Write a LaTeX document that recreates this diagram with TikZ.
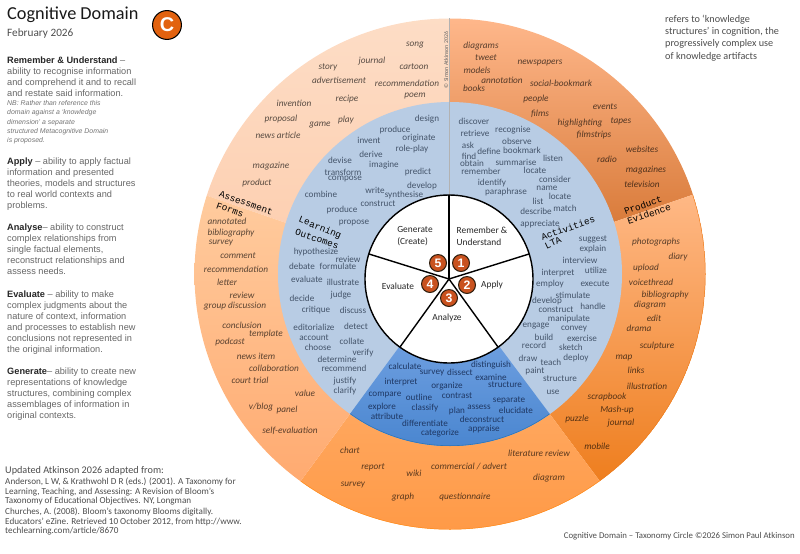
\documentclass[tikz,border=0pt]{standalone}
\usepackage{fontspec}
\usepackage{tikz}
\setmainfont{Carlito}
\newfontfamily\arialfont{Liberation Sans}
\newfontfamily\labelfont{Liberation Mono}

\definecolor{wordblue}{HTML}{44546A}
\definecolor{wedgeword}{HTML}{1F3864}
\definecolor{ballfill}{HTML}{C9521F}
\definecolor{badgefill}{HTML}{E2620F}
\definecolor{ringblue}{HTML}{B8CCE4}
\definecolor{CreateFrom}{HTML}{FDDDC6}
\definecolor{CreateTo}{HTML}{FDD0B2}
\definecolor{TopFrom}{HTML}{FFB88C}
\definecolor{TopTo}{HTML}{D97B3A}
\definecolor{RightFrom}{HTML}{FFB987}
\definecolor{RightTo}{HTML}{EE7E1E}
\definecolor{LowFrom}{HTML}{FFA75E}
\definecolor{LowTo}{HTML}{FF9A47}
\definecolor{LowEdge}{HTML}{FF8C1A}
\definecolor{LeftFrom}{HTML}{FFCC9F}
\definecolor{LeftTo}{HTML}{FFAA70}
\definecolor{WedgeFrom}{HTML}{6E9FE0}
\definecolor{WedgeTo}{HTML}{4A86D0}
\definecolor{WedgeEdge}{HTML}{2E75B6}

\tikzset{
    artefact/.style={font=\fontsize{7.9}{9}\selectfont\itshape, text=black, text opacity=0.65, inner sep=0},
    verbword/.style={font=\fontsize{7.8}{9}\selectfont, text=wordblue, inner sep=0},
    wedgeverb/.style={font=\fontsize{7.8}{9}\selectfont, text=wedgeword, inner sep=0},
    ringlabel/.style={font=\fontsize{8}{9}\selectfont\labelfont, text=black, inner sep=0},
    levellabel/.style={font=\fontsize{8}{10.5}\selectfont, text=black!85, inner sep=0, align=left},
    stepball/.style={circle, draw=black!75!brown, line width=0.9pt, fill=ballfill, text=white, inner sep=0, minimum size=17*0.85pt, font=\fontsize{10.5}{10.5}\selectfont\bfseries\arialfont},
    blurb/.style={anchor=north west, inner sep=0, align=left, font=\fontsize{7.85}{9.35}\selectfont\arialfont, text=black!60},
    smallnote/.style={anchor=north west, inner sep=0, align=left, font=\fontsize{5.9}{7.8}\selectfont\itshape\arialfont, text=black!55},
    sidetext/.style={anchor=north west, inner sep=0, align=left, text=black!70}
}

\begin{document}
\begin{tikzpicture}[x=0.03cm, y=-0.03cm]
        \useasboundingbox (0, 0) rectangle (800, 554);

        \coordinate (hub) at (449, 279);
        \coordinate (mid) at (450, 274);
        \coordinate (rimTop) at (449, -200);
        \coordinate (rimRight) at (935, 111);
        \coordinate (rimLowR) at (749, 681);
        \coordinate (rimLowL) at (151, 685);
        \coordinate (rimLeft) at (-39, 111);

        \begin{scope}
            \clip (mid) circle (255.5);
            \clip (hub) -- (rimLeft) -- (-39, -200) -- (rimTop) -- cycle;
            \shade[top color=CreateFrom, bottom color=CreateTo] (190, 15) rectangle (450, 225);
        \end{scope}
        \begin{scope}
            \clip (mid) circle (255.5);
            \clip (hub) -- (rimTop) -- (935, -200) -- (rimRight) -- cycle;
            \shade[top color=TopFrom, bottom color=TopTo] (449, 15) rectangle (710, 225);
        \end{scope}
        \begin{scope}
            \clip (mid) circle (255.5);
            \clip (hub) -- (rimRight) -- (935, 681) -- (rimLowR) -- cycle;
            \shade[top color=RightFrom, bottom color=RightTo] (540, 190) rectangle (710, 482);
            \draw[RightTo, line width=0.8pt] (mid) circle (255.5);
        \end{scope}
        \begin{scope}
            \clip (mid) circle (255.5);
            \clip (hub) -- (rimLowR) -- (rimLowL) -- cycle;
            \shade[top color=LowFrom, bottom color=LowTo] (300, 410) rectangle (600, 530);
            \draw[LowEdge, line width=0.8pt] (mid) circle (255.5);
        \end{scope}
        \begin{scope}
            \clip (mid) circle (255.5);
            \clip (hub) -- (rimLowL) -- (-39, 685) -- (rimLeft) -- cycle;
            \shade[top color=LeftFrom, bottom color=LeftTo] (190, 190) rectangle (350, 484);
        \end{scope}

        \fill[ringblue] (mid) circle (172);
        \begin{scope}
            \clip (mid) circle (172);
            \clip (hub) -- (rimLowR) -- (rimLowL) -- cycle;
            \shade[top color=WedgeFrom, bottom color=WedgeTo] (340, 340) rectangle (560, 447);
            \draw[WedgeEdge, line width=1pt] (mid) circle (172);
        \end{scope}
        \draw[black!30, line width=0.5pt] (449.5, 18) -- (449.5, 195);

        \coordinate (spokeTop) at (449, 195);
        \coordinate (spokeRight) at (529, 254);
        \coordinate (spokeLowR) at (498, 347);
        \coordinate (spokeLowL) at (400, 347);
        \coordinate (spokeLeft) at (369, 254);

        \draw[fill=white, line width=1.2pt] (hub) circle (84);
        \draw[line width=1.2pt] (hub) -- (spokeTop);
        \draw[line width=1.2pt] (hub) -- (spokeRight);
        \draw[line width=1.2pt] (hub) -- (spokeLowR);
        \draw[line width=1.2pt] (hub) -- (spokeLowL);
        \draw[line width=1.2pt] (hub) -- (spokeLeft);

        \node[stepball] (ballOne) at (461, 263) {1};
        \node[stepball] (ballTwo) at (467, 285) {2};
        \node[stepball] (ballThree) at (449, 298) {3};
        \node[stepball] (ballFour) at (430, 284) {4};
        \node[stepball] (ballFive) at (438, 263) {5};

        \node[levellabel] (lvlGenerate) at (415, 236) {Generate\\(Create)};
        \node[levellabel] (lvlRemember) at (482, 236) {Remember \&\\Understand};
        \node[levellabel] (lvlApply) at (492, 285) {Apply};
        \node[levellabel] (lvlAnalyze) at (447, 318) {Analyze};
        \node[levellabel] (lvlEvaluate) at (398, 286) {Evaluate};

        \node[ringlabel, rotate=-20] (ringAssess) at (246, 203) {Assessment};
        \node[ringlabel, rotate=-20] (ringForms) at (230, 210) {Forms};
        \node[ringlabel, rotate=-22] (ringLearn) at (320, 228) {Learning};
        \node[ringlabel, rotate=-18] (ringOut) at (317, 239) {Outcomes};
        \node[ringlabel, rotate=19] (ringActive) at (568, 228) {Activities};
        \node[ringlabel, rotate=25] (ringLta) at (553, 243) {LTA};
        \node[ringlabel, rotate=20] (ringProduct) at (643, 205) {Product};
        \node[ringlabel, rotate=18] (ringEvid) at (649, 214) {Evidence};

        \node[artefact] (tl-song) at (415, 45) {song};
        \node[artefact] (tl-journal) at (372, 61) {journal};
        \node[artefact] (tl-story) at (328, 67) {story};
        \node[artefact] (tl-cartoon) at (414, 67) {cartoon};
        \node[artefact] (tl-advert) at (339, 80) {advertisement};
        \node[artefact] (tl-recomm) at (407, 83) {recommendation};
        \node[artefact] (tl-recipe) at (347, 99) {recipe};
        \node[artefact] (tl-poem) at (415, 96) {poem};
        \node[artefact] (tl-invention) at (294, 103) {invention};
        \node[artefact] (tl-proposal) at (281, 119) {proposal};
        \node[artefact] (tl-play) at (346, 120) {play};
        \node[artefact] (tl-game) at (320, 125) {game};
        \node[artefact] (tl-news) at (278, 135) {news article};
        \node[artefact] (tl-magazine) at (271, 166) {magazine};
        \node[artefact] (tl-product) at (257, 183) {product};
        \node[inner sep=0, rotate=90, font=\fontsize{5}{6}\selectfont, text=black!60] (tl-copy) at (446, 60) {© Simon Atkinson 2026};

        \node[artefact] (te-diagrams) at (481, 46) {diagrams};
        \node[artefact] (te-tweet) at (486, 58) {tweet};
        \node[artefact] (te-news) at (540, 63) {newspapers};
        \node[artefact] (te-models) at (477, 70) {models};
        \node[artefact] (te-annot) at (502, 80) {annotation};
        \node[artefact] (te-social) at (561, 83) {social-bookmark};
        \node[artefact] (te-books) at (474, 88) {books};
        \node[artefact] (te-people) at (536, 99) {people};
        \node[artefact] (te-events) at (605, 107) {events};
        \node[artefact] (te-films) at (540, 114) {films};
        \node[artefact] (te-tapes) at (621, 121) {tapes};
        \node[artefact] (te-high) at (580, 123) {highlighting};
        \node[artefact] (te-strips) at (594, 135) {filmstrips};
        \node[artefact] (te-web) at (642, 149) {websites};
        \node[artefact] (te-radio) at (607, 159) {radio};
        \node[artefact] (te-mags) at (646, 170) {magazines};
        \node[artefact] (te-tv) at (642, 184) {television};

        \node[artefact] (ri-photos) at (656, 242) {photographs};
        \node[artefact] (ri-diary) at (678, 257) {diary};
        \node[artefact] (ri-upload) at (646, 268) {upload};
        \node[artefact] (ri-voice) at (651, 282) {voicethread};
        \node[artefact] (ri-biblio) at (665, 295) {bibliography};
        \node[artefact] (ri-diagram) at (650, 305) {diagram};
        \node[artefact] (ri-edit) at (654, 318) {edit};
        \node[artefact] (ri-drama) at (639, 328) {drama};
        \node[artefact] (ri-sculpt) at (657, 346) {sculpture};
        \node[artefact] (ri-map) at (624, 358) {map};
        \node[artefact] (ri-links) at (636, 370) {links};
        \node[artefact] (ri-illus) at (647, 386) {illustration};
        \node[artefact] (ri-scrap) at (607, 397) {scrapbook};
        \node[artefact] (ri-mash) at (617, 410) {Mash-up};
        \node[artefact] (ri-puzzle) at (577, 419) {puzzle};
        \node[artefact] (ri-journal) at (621, 423) {journal};
        \node[artefact] (ri-mobile) at (597, 446) {mobile};

        \node[artefact] (lo-chart) at (350, 450) {chart};
        \node[artefact] (lo-review) at (539, 453) {literature review};
        \node[artefact] (lo-report) at (373, 467) {report};
        \node[artefact] (lo-advert) at (469, 466) {commercial / advert};
        \node[artefact] (lo-wiki) at (414, 473) {wiki};
        \node[artefact] (lo-diagram) at (549, 478) {diagram};
        \node[artefact] (lo-survey) at (353, 485) {survey};
        \node[artefact] (lo-graph) at (403, 497) {graph};
        \node[artefact] (lo-quest) at (465, 497) {questionnaire};

        \node[artefact] (le-annot) at (227, 221) {annotated};
        \node[artefact] (le-biblio) at (231, 233) {bibliography};
        \node[artefact] (le-survey) at (221, 243) {survey};
        \node[artefact] (le-comment) at (238, 256) {comment};
        \node[artefact] (le-recomm) at (236, 269) {recommendation};
        \node[artefact] (le-letter) at (227, 282) {letter};
        \node[artefact] (le-review) at (242, 295) {review};
        \node[artefact] (le-group) at (235, 306) {group discussion};
        \node[artefact] (le-concl) at (242, 325) {conclusion};
        \node[artefact] (le-templ) at (266, 334) {template};
        \node[artefact] (le-podcast) at (230, 342) {podcast};
        \node[artefact] (le-item) at (256, 356) {news item};
        \node[artefact] (le-collab) at (274, 368) {collaboration};
        \node[artefact] (le-court) at (250, 380) {court trial};
        \node[artefact] (le-value) at (305, 393) {value};
        \node[artefact] (le-vblog) at (261, 407) {v/blog};
        \node[artefact] (le-panel) at (287, 410) {panel};
        \node[artefact] (le-self) at (290, 431) {self-evaluation};

        \node[verbword] (oc-design) at (427, 119) {design};
        \node[verbword] (oc-produce) at (395, 130) {produce};
        \node[verbword] (oc-originate) at (419, 138) {originate};
        \node[verbword] (oc-invent) at (369, 140) {invent};
        \node[verbword] (oc-role) at (412, 149) {role-play};
        \node[verbword] (oc-derive) at (371, 154) {derive};
        \node[verbword] (oc-devise) at (340, 160) {devise};
        \node[verbword] (oc-imagine) at (384, 165) {imagine};
        \node[verbword] (oc-predict) at (418, 172) {predict};
        \node[verbword] (oc-transform) at (343, 172) {transform};
        \node[verbword] (oc-compose) at (345, 179) {compose};
        \node[verbword] (oc-develop) at (422, 186) {develop};
        \node[verbword] (oc-write) at (375, 190) {write};
        \node[verbword] (oc-synth) at (404, 195) {synthesise};
        \node[verbword] (oc-combine) at (321, 194) {combine};
        \node[verbword] (oc-construct) at (378, 204) {construct};
        \node[verbword] (oc-produceB) at (342, 210) {produce};
        \node[verbword] (oc-propose) at (354, 223) {propose};
        \node[verbword] (oc-hypo) at (316, 252) {hypothesize};
        \node[verbword] (oc-review) at (348, 259) {review};
        \node[verbword] (oc-debate) at (302, 266) {debate};
        \node[verbword] (oc-formulate) at (338, 266) {formulate};
        \node[verbword] (oc-evaluate) at (307, 279) {evaluate};
        \node[verbword] (oc-illus) at (343, 282) {illustrate};
        \node[verbword] (oc-judge) at (341, 295) {judge};
        \node[verbword] (oc-decide) at (302, 298) {decide};
        \node[verbword] (oc-critique) at (316, 310) {critique};
        \node[verbword] (oc-discuss) at (353, 310) {discuss};
        \node[verbword] (oc-editor) at (314, 327) {editorialize};
        \node[verbword] (oc-detect) at (356, 326) {detect};
        \node[verbword] (oc-account) at (314, 338) {account};
        \node[verbword] (oc-collate) at (352, 341) {collate};
        \node[verbword] (oc-choose) at (318, 347) {choose};
        \node[verbword] (oc-verify) at (363, 353) {verify};
        \node[verbword] (oc-determine) at (337, 359) {determine};
        \node[verbword] (oc-recommend) at (344, 368) {recommend};
        \node[verbword] (oc-justify) at (345, 381) {justify};
        \node[verbword] (oc-clarify) at (345, 391) {clarify};

        \node[verbword] (la-discover) at (474, 121) {discover};
        \node[verbword] (la-retrieve) at (475, 133) {retrieve};
        \node[verbword] (la-recognise) at (513, 130) {recognise};
        \node[verbword] (la-observe) at (517, 141) {observe};
        \node[verbword] (la-ask) at (468, 145) {ask};
        \node[verbword] (la-define) at (489, 151) {define};
        \node[verbword] (la-bookmark) at (522, 150) {bookmark};
        \node[verbword] (la-find) at (469, 156) {find};
        \node[verbword] (la-listen) at (553, 158) {listen};
        \node[verbword] (la-obtain) at (472, 163) {obtain};
        \node[verbword] (la-summarise) at (516, 162) {summarise};
        \node[verbword] (la-remember) at (481, 171) {remember};
        \node[verbword] (la-locate) at (535, 170) {locate};
        \node[verbword] (la-consider) at (555, 179) {consider};
        \node[verbword] (la-identify) at (492, 183) {identify};
        \node[verbword] (la-name) at (547, 188) {name};
        \node[verbword] (la-para) at (506, 192) {paraphrase};
        \node[verbword] (la-locateB) at (560, 196) {locate};
        \node[verbword] (la-list) at (538, 201) {list};
        \node[verbword] (la-describe) at (536, 211) {describe};
        \node[verbword] (la-match) at (565, 208) {match};
        \node[verbword] (la-appreciate) at (540, 224) {appreciate};
        \node[verbword] (la-suggest) at (593, 239) {suggest};
        \node[verbword] (la-explain) at (593, 249) {explain};
        \node[verbword] (la-interview) at (580, 260) {interview};
        \node[verbword] (la-utilize) at (596, 270) {utilize};
        \node[verbword] (la-interpret) at (558, 273) {interpret};
        \node[verbword] (la-employ) at (550, 284) {employ};
        \node[verbword] (la-execute) at (595, 284) {execute};
        \node[verbword] (la-stimulate) at (573, 295) {stimulate};
        \node[verbword] (la-develop) at (547, 301) {develop};
        \node[verbword] (la-handle) at (593, 306) {handle};
        \node[verbword] (la-construct) at (556, 310) {construct};
        \node[verbword] (la-manip) at (569, 319) {manipulate};
        \node[verbword] (la-engage) at (536, 326) {engage};
        \node[verbword] (la-convey) at (574, 329) {convey};
        \node[verbword] (la-build) at (544, 337) {build};
        \node[verbword] (la-exercise) at (582, 338) {exercise};
        \node[verbword] (la-record) at (534, 345) {record};
        \node[verbword] (la-sketch) at (571, 347) {sketch};
        \node[verbword] (la-draw) at (528, 358) {draw};
        \node[verbword] (la-deploy) at (576, 358) {deploy};
        \node[verbword] (la-teach) at (551, 362) {teach};
        \node[verbword] (la-paint) at (535, 371) {paint};
        \node[verbword] (la-structure) at (560, 379) {structure};
        \node[verbword] (la-use) at (553, 392) {use};

        \node[wedgeverb] (az-calculate) at (405, 366) {calculate};
        \node[wedgeverb] (az-distinguish) at (491, 365) {distinguish};
        \node[wedgeverb] (az-survey) at (432, 373) {survey};
        \node[wedgeverb] (az-dissect) at (460, 372) {dissect};
        \node[wedgeverb] (az-examine) at (491, 377) {examine};
        \node[wedgeverb] (az-interpret) at (401, 382) {interpret};
        \node[wedgeverb] (az-structure) at (505, 385) {structure};
        \node[wedgeverb] (az-organize) at (447, 386) {organize};
        \node[wedgeverb] (az-compare) at (385, 395) {compare};
        \node[wedgeverb] (az-outline) at (419, 397) {outline};
        \node[wedgeverb] (az-contrast) at (457, 396) {contrast};
        \node[wedgeverb] (az-separate) at (509, 400) {separate};
        \node[wedgeverb] (az-explore) at (382, 407) {explore};
        \node[wedgeverb] (az-assess) at (479, 407) {assess};
        \node[wedgeverb] (az-classify) at (425, 408) {classify};
        \node[wedgeverb] (az-elucidate) at (516, 410) {elucidate};
        \node[wedgeverb] (az-plan) at (457, 411) {plan};
        \node[wedgeverb] (az-attribute) at (387, 416) {attribute};
        \node[wedgeverb] (az-deconstruct) at (482, 419) {deconstruct};
        \node[wedgeverb] (az-differ) at (425, 423) {differentiate};
        \node[wedgeverb] (az-appraise) at (484, 429) {appraise};
        \node[wedgeverb] (az-categorize) at (440, 433) {categorize};

        \node[sidetext, font=\fontsize{15.6}{17}\selectfont, text=black!90] (title) at (7, 7) {Cognitive Domain};
        \node[sidetext, font=\fontsize{9.6}{11}\selectfont] (subtitle) at (7, 28) {February 2026};
        \node[circle, draw=black, line width=0.9pt, fill=badgefill, text=white, inner sep=0, minimum size=29*0.85pt, font=\fontsize{17}{17}\selectfont\bfseries\arialfont] (badge) at (167, 25) {C};

        \node[blurb] (blurbRemember) at (7, 57) {\textcolor{black!85}{\textbf{Remember \& Understand}} –\\ability to recognise information\\and comprehend it and to recall\\and restate said information.};
        \node[smallnote] (blurbNote) at (7, 100.5) {NB: Rather than reference this\\domain against a ‘knowledge\\dimension’ a separate\\structured Metacognitive Domain\\is proposed.};
        \node[blurb] (blurbApply) at (7, 158) {\textcolor{black!85}{\textbf{Apply}} – ability to apply factual\\information and presented\\theories, models and structures\\to real world contexts and\\problems.};
        \node[blurb] (blurbAnalyse) at (7, 224) {\textcolor{black!85}{\textbf{Analyse}}– ability to construct\\complex relationships from\\single factual elements,\\reconstruct relationships and\\assess needs.};
        \node[blurb] (blurbEvaluate) at (7, 291) {\textcolor{black!85}{\textbf{Evaluate}} – ability to make\\complex judgments about the\\nature of context, information\\and processes to establish new\\conclusions not represented in\\the original information.};
        \node[blurb] (blurbGenerate) at (7, 368) {\textcolor{black!85}{\textbf{Generate}}– ability to create new\\representations of knowledge\\structures, combining complex\\assemblages of information in\\original contexts.};

        \node[sidetext, font=\fontsize{8.7}{10}\selectfont] (updated) at (5, 466) {Updated Atkinson 2026 adapted from:};
        \node[sidetext, font=\fontsize{7.8}{8}\selectfont] (refAnderson) at (5, 478) {Anderson, L W, \& Krathwohl D R (eds.) (2001). A Taxonomy for\\Learning, Teaching, and Assessing: A Revision of Bloom’s\\Taxonomy of Educational Objectives. NY, Longman};
        \node[sidetext, font=\fontsize{7.8}{8}\selectfont] (refChurches) at (5, 508) {Churches, A. (2008). Bloom’s taxonomy Blooms digitally.\\Educators’ eZine. Retrieved 10 October 2012, from http://www.\\techlearning.com/article/8670};

        \node[sidetext, font=\fontsize{8.7}{10.4}\selectfont] (refers) at (665, 15) {refers to ‘knowledge\\structures’ in cognition, the\\progressively complex use\\of knowledge artifacts};
        \node[sidetext, anchor=north east, font=\fontsize{7.5}{8}\selectfont] (footer) at (795, 532) {Cognitive Domain – Taxonomy Circle ©2026 Simon Paul Atkinson};
    \end{tikzpicture}
\end{document}
